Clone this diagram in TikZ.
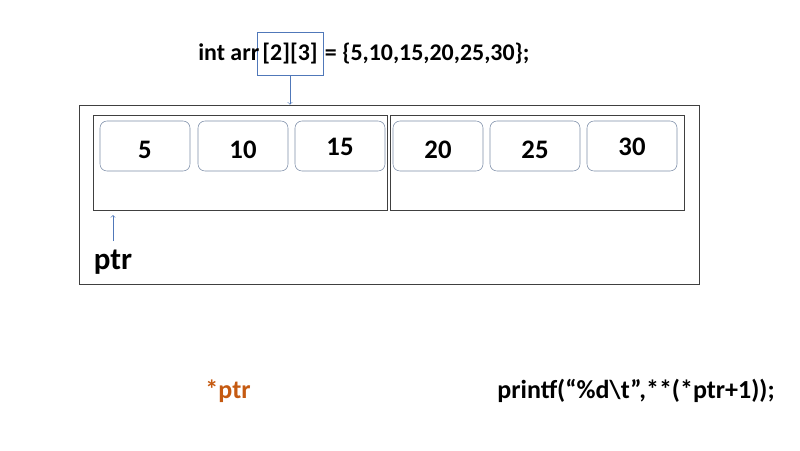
\documentclass[tikz,border=0pt]{standalone}
\usepackage{fontspec}
\setmainfont{Carlito}
\usetikzlibrary{positioning}
\definecolor{cellline}{RGB}{125,142,168}
\definecolor{dimline}{RGB}{80,120,185}
\definecolor{ptrorange}{RGB}{197,90,17}

\begin{document}
\begin{tikzpicture}[x=0.025cm,y=-0.025cm,
		cell/.style={draw=cellline,rounded corners=5pt,minimum width=2.25cm,minimum height=1.25cm,text height=18pt,text depth=0pt,font=\bfseries\fontsize{19}{19}\selectfont},
		row/.style={draw=black!75,minimum width=7.35cm,minimum height=2.375cm},
		code/.style={font=\bfseries\fontsize{17}{17}\selectfont,inner sep=0pt},
		bigcode/.style={font=\bfseries\fontsize{18.5}{18.5}\selectfont,inner sep=0pt}]
	\useasboundingbox (0,0) rectangle (800,450);
	% array declaration
	\node (dims) [draw=dimline,code,minimum width=1.65cm,minimum height=1.075cm] at (290,53.5) {[2][3]};
	\node (decl1) [code,anchor=base east] at ([xshift=2pt]dims.base west) {int arr};
	\node (decl2) [code,anchor=base west] at ([xshift=1pt]dims.base east) {= \{5,10,15,20,25,30\};};
	% memory
	\node (mem) [draw=black!75,minimum width=15.5cm,minimum height=4.475cm] at (389,194.5) {};
	\node (row1) [row] at (240,162.5) {};
	\node (row2) [row] at (537,162.5) {};
	\node (c1) [cell] at (145,146) {5};
	\node (c2) [cell] at (243,146) {10};
	\node (c3) [cell] at (340,146) {\raisebox{2pt}{15}};
	\node (c4) [cell] at (438,146) {20};
	\node (c5) [cell] at (535,146) {25};
	\node (c6) [cell] at (632,146) {\raisebox{2pt}{30}};
	\draw[->,dimline] (dims.south) to (dims.south |- mem.north);
	% pointer
	\node (ptr) [font=\bfseries\fontsize{22}{22}\selectfont] at (113,262) {ptr};
	\coordinate (ptrtail) at (113,241);
	\coordinate (ptrtip) at (113,215);
	\draw[->,dimline] (ptrtail) to (ptrtip);
	% bottom line
	\node (deref) [bigcode,text=ptrorange] at (228,391) {*ptr};
	\node (call) [bigcode] at (636,391) {printf(“\%d\textbackslash t”,**(*ptr+1));};
\end{tikzpicture}
\end{document}
